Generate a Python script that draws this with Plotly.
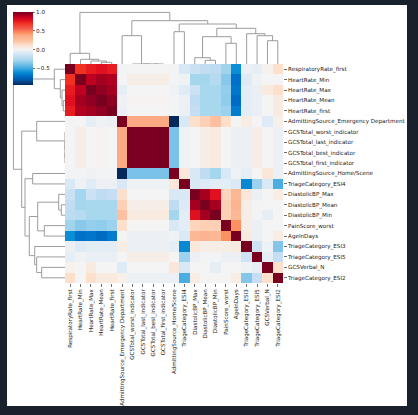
import plotly.graph_objects as go

# ---------------- data ----------------
labels = [
    "RespiratoryRate_first", "HeartRate_Min", "HeartRate_Max", "HeartRate_Mean",
    "HeartRate_first", "AdmittingSource_Emergency Department",
    "GCSTotal_worst_indicator", "GCSTotal_last_indicator", "GCSTotal_best_indicator",
    "GCSTotal_first_indicator", "AdmittingSource_Home/Scene", "TriageCategory_ESI4",
    "DiastolicBP_Max", "DiastolicBP_Mean", "DiastolicBP_Min", "PainScore_worst",
    "AgeInDays", "TriageCategory_ESI3", "TriageCategory_ESI5", "GCSVerbal_N",
    "TriageCategory_ESI2",
]

# lower triangle of the correlation matrix (row i, columns 0..i-1), diagonal = 1
corr_lower = [
    [],
    [0.70],
    [0.75, 0.88],
    [0.78, 0.92, 0.95],
    [0.75, 0.90, 0.92, 0.95],
    [-0.01, 0.0, -0.05, -0.02, -0.03],
    [0.0, 0.04, 0.0, 0.01, 0.0, 0.38],
    [0.0, 0.04, 0.0, 0.01, 0.0, 0.38, 1.0],
    [0.0, 0.04, 0.0, 0.01, 0.0, 0.38, 1.0, 1.0],
    [0.0, 0.04, 0.0, 0.01, 0.0, 0.38, 1.0, 1.0, 1.0],
    [-0.01, -0.01, -0.02, -0.01, -0.01, -0.94, -0.38, -0.38, -0.38, -0.38],
    [-0.1, -0.02, -0.07, -0.03, -0.03, -0.1, -0.02, -0.02, -0.02, -0.02, 0.08],
    [-0.16, -0.28, -0.15, -0.2, -0.18, 0.12, 0.0, 0.0, 0.0, 0.0, -0.1, -0.1],
    [-0.19, -0.28, -0.27, -0.27, -0.27, 0.18, 0.04, 0.04, 0.04, 0.04, -0.2, -0.08, 0.92],
    [-0.21, -0.23, -0.27, -0.27, -0.27, 0.24, 0.06, 0.06, 0.06, 0.06, -0.28, -0.06, 0.78, 0.92],
    [-0.29, -0.35, -0.32, -0.33, -0.3, 0.12, 0.0, 0.0, 0.0, 0.0, -0.1, -0.06, 0.16, 0.18, 0.18],
    [-0.6, -0.7, -0.68, -0.72, -0.66, 0.0, -0.03, -0.03, -0.03, -0.03, -0.02, -0.09, 0.3, 0.32, 0.3, 0.45],
    [-0.03, -0.08, -0.06, -0.06, -0.06, 0.05, -0.03, -0.03, -0.03, -0.03, -0.05, -0.62, 0.08, 0.04, 0.04, 0.04, 0.06],
    [-0.05, -0.02, -0.04, -0.04, -0.04, 0.0, 0.04, 0.04, 0.04, 0.04, 0.0, -0.3, -0.03, -0.01, -0.01, -0.03, -0.03, -0.14],
    [0.02, 0.0, 0.06, 0.0, 0.0, -0.08, 0.0, 0.0, 0.0, 0.0, 0.08, -0.1, 0.0, 0.0, -0.05, 0.0, 0.0, -0.02, -0.05],
    [0.12, 0.0, 0.12, 0.06, 0.06, 0.03, -0.03, -0.03, -0.03, -0.03, -0.03, -0.48, 0.05, 0.0, 0.0, 0.0, 0.05, -0.36, -0.18, 0.12],
]

# hierarchical clustering merges: (left node, right node, distance); new node ids start at 21
linkage_merges = [
    (3, 4, 1.7),
    (2, 21, 3.0),
    (1, 22, 4.7),
    (0, 23, 10.7),
    (8, 9, 0.0),
    (7, 25, 0.0),
    (6, 26, 0.0),
    (5, 27, 28.3),
    (10, 11, 32.3),
    (13, 14, 3.7),
    (12, 30, 6.3),
    (15, 16, 20.7),
    (31, 32, 27.3),
    (19, 20, 23.3),
    (18, 34, 28.3),
    (17, 35, 30.3),
    (33, 36, 35.7),
    (29, 37, 40.0),
    (28, 38, 43.3),
    (24, 39, 51.6),
]

cbar_ticks = [-0.5, 0.0, 0.5, 1.0]
cbar_ticktext = ["\u22120.5", "0.0", "0.5", "1.0"]

# ---------------- build matrix ----------------
n = len(labels)
z = [[1.0] * n for _ in range(n)]
for i, row in enumerate(corr_lower):
    for j, v in enumerate(row):
        z[i][j] = v
        z[j][i] = v

zmin, zmax = -0.94, 1.0
color_stops = [
    (-0.94, "#03295a"), (-0.8, "#0058a8"), (-0.7, "#0070c8"), (-0.6, "#0a8ed6"),
    (-0.48, "#4aaee0"), (-0.35, "#88c8ea"), (-0.27, "#a8d8ee"), (-0.2, "#c0dcf2"),
    (-0.1, "#d8e8f5"), (0.0, "#f4f4f4"), (0.12, "#fde0cc"), (0.24, "#fcc0a0"),
    (0.38, "#fcaa84"), (0.45, "#fb9060"), (0.55, "#f46050"), (0.7, "#f03020"),
    (0.78, "#e01020"), (0.88, "#c00020"), (0.95, "#900020"), (1.0, "#7a0020"),
]
colorscale = [[(v - zmin) / (zmax - zmin), c] for v, c in color_stops]

# dendrogram geometry from linkage
pos = {i: float(i) for i in range(n)}
hgt = {i: 0.0 for i in range(n)}
seg_links = []
for k, (a, b, d) in enumerate(linkage_merges):
    node = n + k
    pos[node] = (pos[a] + pos[b]) / 2
    hgt[node] = d
    seg_links.append((pos[a], hgt[a], pos[b], hgt[b], d))

colx, coly, rowx, rowy = [], [], [], []
for pa, ha, pb, hb, d in seg_links:
    colx += [pa, pa, pb, pb, None]
    coly += [ha, d, d, hb, None]
    rowx += [ha, d, d, hb, None]
    rowy += [pa, pa, pb, pb, None]

# ---------------- layout helpers ----------------
W, H = 418, 415
def xd(a, b):
    return [a / W, b / W]
def yd(top, bottom):
    return [1 - bottom / H, 1 - top / H]

FONT = "DejaVu Sans"
fs = 5.6
dcol = "#9c9c9c"
BG = "#18212c"

fig = go.Figure()
fig.add_trace(go.Heatmap(
    z=z, x=list(range(n)), y=list(range(n)),
    colorscale=colorscale, zmin=zmin, zmax=zmax,
    xaxis="x", yaxis="y", hoverinfo="skip",
    colorbar=dict(
        x=13 / W, xanchor="left", xpad=0,
        y=1 - 12 / H, yanchor="top", ypad=0,
        len=73, lenmode="pixels", thickness=20, thicknessmode="pixels",
        outlinewidth=0, tickvals=cbar_ticks, ticktext=cbar_ticktext,
        ticks="outside", ticklen=2.5, tickwidth=0.7, tickcolor="#333",
        tickfont=dict(family=FONT, size=fs, color="#222"),
    ),
))
fig.add_trace(go.Scatter(x=colx, y=coly, mode="lines", xaxis="x2", yaxis="y2",
                         line=dict(color=dcol, width=1), hoverinfo="skip", showlegend=False))
fig.add_trace(go.Scatter(x=rowx, y=rowy, mode="lines", xaxis="x3", yaxis="y3",
                         line=dict(color=dcol, width=1), hoverinfo="skip", showlegend=False))

hidden = dict(showgrid=False, zeroline=False, showticklabels=False, ticks="", showline=False)
fig.update_layout(
    width=W, height=H,
    margin=dict(l=0, r=0, t=0, b=0),
    paper_bgcolor=BG,
    plot_bgcolor="rgba(0,0,0,0)",
    showlegend=False,
    font=dict(family=FONT, size=fs, color="#222"),
    shapes=[dict(type="rect", xref="paper", yref="paper",
                 x0=7 / W, x1=407 / W, y0=1 - 406 / H, y1=1 - 5 / H,
                 fillcolor="white", line=dict(width=0), layer="below")],
    xaxis=dict(domain=xd(65, 283), range=[-0.5, n - 0.5], tickvals=list(range(n)),
               ticktext=labels, tickangle=-90, ticks="outside", ticklen=3,
               tickwidth=0.7, tickcolor="#333", showgrid=False, zeroline=False,
               tickfont=dict(family=FONT, size=fs, color="#222"), anchor="y"),
    yaxis=dict(domain=yd(64, 283), range=[n - 0.5, -0.5], tickvals=list(range(n)),
               ticktext=labels, side="right", ticks="outside", ticklen=3,
               tickwidth=0.7, tickcolor="#333", showgrid=False, zeroline=False,
               tickfont=dict(family=FONT, size=fs, color="#222"), anchor="x"),
    xaxis2=dict(domain=xd(65, 283), range=[-0.5, n - 0.5], anchor="y2", **hidden),
    yaxis2=dict(domain=yd(10, 64), range=[0, 54], anchor="x2", **hidden),
    xaxis3=dict(domain=xd(11, 65), range=[54, 0], anchor="y3", **hidden),
    yaxis3=dict(domain=yd(64, 283), range=[n - 0.5, -0.5], anchor="x3", **hidden),
)

page_js = ("document.body.style.margin='0';"
           "document.body.style.overflow='hidden';"
           "document.body.style.background='" + BG + "';")
fig.write_html("out.html", post_script=page_js,
               config={"displayModeBar": False, "staticPlot": True})
